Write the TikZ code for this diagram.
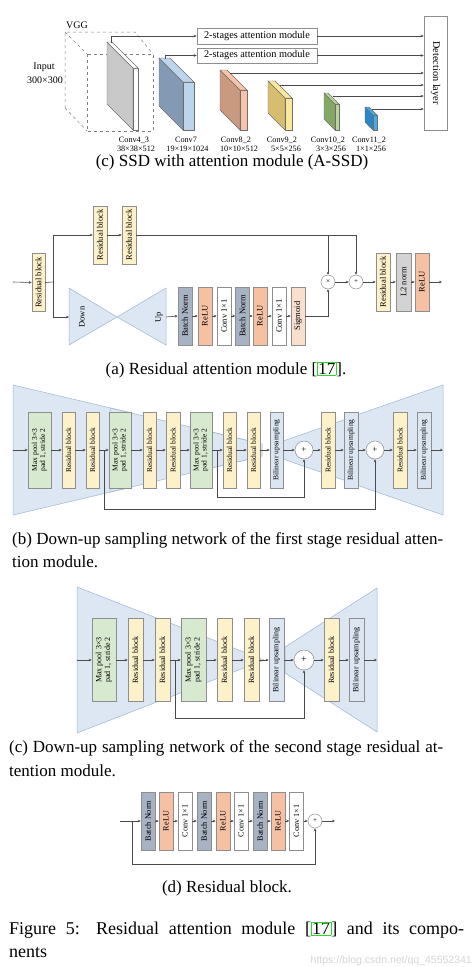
\documentclass[tikz,border=0pt]{standalone}
\usepackage{fontspec}
\setmainfont{Liberation Serif}
\newfontfamily\wmfont{Liberation Sans}
\usepackage{graphicx}
\usetikzlibrary{arrows.meta,calc}
\definecolor{linec}{HTML}{4A4A4A}
\definecolor{boxgray}{HTML}{8E8E8E}
\definecolor{rbfill}{HTML}{FDF1C9}
\definecolor{bnfill}{HTML}{A7B2C3}
\definecolor{relufill}{HTML}{F5C1A2}
\definecolor{sigfill}{HTML}{F9DFCE}
\definecolor{l2fill}{HTML}{D3D3D3}
\definecolor{mpfill}{HTML}{D7E9CF}
\definecolor{bufill}{HTML}{DCE6F2}
\definecolor{trapfill}{HTML}{DCE7F3}
\definecolor{trapedge}{HTML}{9FB6D0}
\definecolor{citegreen}{HTML}{22DD22}
\definecolor{slabedge}{HTML}{6E6E6E}
\definecolor{wmgray}{HTML}{D6D6D6}
\definecolor{s1side}{HTML}{C9C9C9}
\definecolor{s2side}{HTML}{8499B4}\definecolor{s2front}{HTML}{BDD5EC}
\definecolor{s3side}{HTML}{C99A80}\definecolor{s3front}{HTML}{F7C4A7}
\definecolor{s4side}{HTML}{D7BD70}\definecolor{s4front}{HTML}{FBE89C}
\definecolor{s5side}{HTML}{86A866}\definecolor{s5front}{HTML}{BAD79B}
\definecolor{s6side}{HTML}{2A86C6}\definecolor{s6front}{HTML}{45AEE6}
\newcommand{\myrot}[1]{\rotatebox{90}{#1}}
\newcommand{\mptext}{\rotatebox{90}{\begin{tabular}{@{}c@{}}Max pool 3×3\\pad 1, stride 2\end{tabular}}}
\newcommand{\greenref}[1]{{\setlength{\fboxsep}{0.4pt}\setlength{\fboxrule}{0.7pt}\color{citegreen}\fbox{\color{black}#1}}}
\newcommand{\ssdslab}[6]{%
 \filldraw[fill=#5, draw=slabedge, line width=0.4pt] (#1,#2) -- ({#1+#3},{#2+#3}) -- ({#1+#3},130) -- (#1,{130-#3}) -- cycle;
 \filldraw[fill=#6, draw=slabedge, line width=0.4pt] ({#1+#3},{#2+#3}) rectangle ({#1+#3+#4},130);
 \filldraw[fill=#6, draw=slabedge, line width=0.4pt] (#1,#2) -- ({#1+#4},#2) -- ({#1+#3+#4},{#2+#3}) -- ({#1+#3},{#2+#3}) -- cycle;}
\tikzset{
 base/.style={draw=boxgray, line width=0.5pt, inner sep=0pt, minimum width=14pt},
 rbk/.style={base, fill=rbfill},
 bnk/.style={base, fill=bnfill},
 reluk/.style={base, fill=relufill},
 convk/.style={base, fill=white},
 sigk/.style={base, fill=sigfill},
 l2k/.style={base, fill=l2fill},
 mpk/.style={base, fill=mpfill},
 buk/.style={base, fill=bufill},
 fa/.style={font=\fontsize{8.5}{9}\selectfont, minimum height=58pt},
 fb/.style={font=\fontsize{7.5}{8.2}\selectfont, minimum height=76pt},
 fc/.style={font=\fontsize{8}{8.6}\selectfont, minimum height=83pt},
 fd/.style={font=\fontsize{8.2}{9}\selectfont, minimum height=58pt},
 circk/.style={circle, draw=boxgray, fill=white, inner sep=0pt, line width=0.5pt, font=\fontsize{7}{7}\selectfont},
 arr/.style={-{Stealth[length=3pt,width=2.6pt]}, draw=linec, line width=0.6pt},
 ln/.style={draw=linec, line width=0.6pt},
 trap/.style={fill=trapfill, draw=trapedge, line width=0.5pt},
 lbl/.style={inner sep=0pt, font=\fontsize{8.2}{9}\selectfont},
 captxt/.style={inner sep=0pt, font=\fontsize{17}{20}\selectfont},
 figtxt/.style={inner sep=0pt, font=\fontsize{18}{21}\selectfont},
 attk/.style={draw=boxgray, fill=white, line width=0.6pt, inner sep=0pt, minimum width=120pt, font=\fontsize{10.3}{11}\selectfont},
}
\begin{document}
\begin{tikzpicture}[x=1pt,y=-1pt]
\useasboundingbox (0,0) rectangle (474,967);
\fill[white] (0,0) rectangle (474,967);

% ================= SSD =================
\draw[dashed, draw=gray, line width=0.5pt] (65,108) -- (65,32) -- (135,32) -- (153,54);
\draw[dashed, draw=gray, line width=0.5pt] (65,32) -- (87,54);
\draw[dashed, draw=gray, line width=0.5pt] (65,108) -- (87,131);
\draw[dashed, draw=gray, line width=0.5pt] (87,54) rectangle (153,131);
\node[inner sep=0pt, font=\fontsize{10}{11}\selectfont] (vgg) at (77,25) {VGG};
\node[inner sep=0pt, font=\fontsize{10}{11}\selectfont] (inp) at (44,67) {Input};
\node[inner sep=0pt, font=\fontsize{10}{11}\selectfont] (inpd) at (45,80) {300×300};

\ssdslab{107}{42}{26}{5}{s1side}{white}
\ssdslab{159}{58}{24}{11}{s2side}{s2front}
\ssdslab{220}{70}{20}{7}{s3side}{s3front}
\ssdslab{268}{81}{17}{7}{s4side}{s4front}
\ssdslab{324}{93}{11}{4}{s5side}{s5front}
\ssdslab{365}{107}{8}{4}{s6side}{s6front}

\coordinate (c43) at (111,43);
\coordinate (c7) at (165,59);
\coordinate (c82) at (230,73);
\coordinate (c92) at (280,85);
\coordinate (c102) at (333,96);
\coordinate (c112) at (372,109);

\node[attk, minimum height=16pt] (att1) at (257,36) {2-stages attention module};
\node[attk, minimum height=15pt] (att2) at (257,55.5) {2-stages attention module};
\node[draw=boxgray, fill=white, line width=0.6pt, minimum width=23pt, minimum height=114pt, inner sep=0pt] (det) at (435.5,73) {\rotatebox{-90}{\fontsize{10.3}{11}\selectfont Detection layer}};

\draw[arr] (c43) |- (att1.west);
\draw[arr] (c7) |- (att2.west);
\draw[arr] (att1.east) -- (att1.east -| det.west);
\draw[arr] (att2.east) -- (att2.east -| det.west);
\draw[arr] (c82) -- (c82 -| det.west);
\draw[arr] (c92) -- (c92 -| det.west);
\draw[arr] (c102) -- (c102 -| det.west);
\draw[arr] (c112) -- (c112 -| det.west);

\node[lbl] (n1) at (134,140) {Conv4\_3};
\node[lbl] (m1) at (136,149) {38×38×512};
\node[lbl] (n2) at (186,140) {Conv7};
\node[lbl] (m2) at (187.5,149) {19×19×1024};
\node[lbl] (n3) at (236,140) {Conv8\_2};
\node[lbl] (m3) at (239,149) {10×10×512};
\node[lbl] (n4) at (282,140) {Conv9\_2};
\node[lbl] (m4) at (286,149) {5×5×256};
\node[lbl] (n5) at (328,140) {Conv10\_2};
\node[lbl] (m5) at (331,149) {3×3×256};
\node[lbl] (n6) at (369,140) {Conv11\_2};
\node[lbl] (m6) at (371,149) {1×1×256};

\node[captxt] (capc) at (232,162) {(c) SSD with attention module (A-SSD)};

% ================= (a) =================
\filldraw[trap] (69,288) -- (117,317) -- (69,345) -- cycle;
\filldraw[trap] (166,288) -- (117,317) -- (166,345) -- cycle;
\node[inner sep=0pt, font=\fontsize{8.5}{9}\selectfont] (dn) at (82,317) {\myrot{Down}};
\node[inner sep=0pt, font=\fontsize{8.5}{9}\selectfont] (upt) at (159,317) {\myrot{Up}};
\coordinate (downL) at (69,317);
\coordinate (upR) at (166,317);
\coordinate (inA) at (13,282);
\coordinate (sA) at (53,282);
\coordinate (outA) at (442,282);

\node[rbk,fa,minimum width=13pt] (rbA1) at (38.5,282.5) {\myrot{Residual block}};
\node[rbk,fa] (rbA2) at (100,235) {\myrot{Residual block}};
\node[rbk,fa] (rbA3) at (129,235) {\myrot{Residual block}};
\node[bnk,fa] (bnA1) at (185,316) {\myrot{Batch Norm}};
\node[reluk,fa] (reA1) at (205,316) {\myrot{ReLU}};
\node[convk,fa] (cvA1) at (224,316) {\myrot{Conv 1×1}};
\node[bnk,fa] (bnA2) at (242.5,316) {\myrot{Batch Norm}};
\node[reluk,fa] (reA2) at (260,316) {\myrot{ReLU}};
\node[convk,fa] (cvA2) at (279,316) {\myrot{Conv 1×1}};
\node[sigk,fa] (sgA) at (298,316) {\myrot{Sigmoid}};
\node[circk, minimum size=14pt] (muA) at (328,282) {×};
\node[circk, minimum size=14pt] (plA) at (356,282) {+};
\node[rbk,fa] (rbA4) at (383,282) {\myrot{Residual block}};
\node[l2k,fa,minimum width=15pt] (l2A) at (403.5,282) {\myrot{L2 norm}};
\node[reluk,fa] (reA3) at (422,282) {\myrot{ReLU}};

\draw[arr] (inA) -- (rbA1.west);
\draw[ln] (rbA1.east) -- (sA);
\draw[arr] (sA) |- (rbA2.west);
\draw[arr] (sA) |- (downL);
\draw[arr] (rbA2.east) -- (rbA3.west);
\draw[arr] (rbA3.east) -| (plA.north);
\draw[arr] (rbA3.east -| muA) -- (muA.north);
\draw[arr] (upR) -- (bnA1.west);
\foreach \a/\b in {bnA1/reA1, reA1/cvA1, cvA1/bnA2, bnA2/reA2, reA2/cvA2, cvA2/sgA, muA/plA, plA/rbA4, rbA4/l2A, l2A/reA3}
  \draw[arr] (\a.east) -- (\b.west);
\draw[arr] (sgA.east) -| (muA.south);
\draw[arr] (reA3.east) -- (outA);

\node[captxt] (capa) at (226,370) {(a) Residual attention module [\greenref{17}].};

% ================= (b) =================
\filldraw[trap] (13,385) -- (132,413) -- (132,487) -- (13,515) -- cycle;
\filldraw[trap] (110,408) -- (250,441) -- (250,459) -- (110,492) -- cycle;
\filldraw[trap] (190,427) -- (262,444) -- (262,456) -- (190,473) -- cycle;
\filldraw[trap] (283,441) -- (358,415) -- (358,485) -- (283,459) -- cycle;
\filldraw[trap] (345,419) -- (443,385) -- (443,515) -- (345,481) -- cycle;

\coordinate (inB) at (13,450);
\coordinate (outB) at (443,450);
\node[mpk,fb,minimum width=23pt] (mpB1) at (39.5,450) {\mptext};
\node[rbk,fb,minimum width=13pt] (rbB1) at (68.5,450) {\myrot{Residual block}};
\node[rbk,fb,minimum width=13pt] (rbB2) at (92.5,450) {\myrot{Residual block}};
\node[mpk,fb,minimum width=22pt] (mpB2) at (120,450) {\mptext};
\node[rbk,fb,minimum width=13pt] (rbB3) at (149.5,450) {\myrot{Residual block}};
\node[rbk,fb,minimum width=14pt] (rbB4) at (173,450) {\myrot{Residual block}};
\node[mpk,fb,minimum width=22pt] (mpB3) at (201,450) {\mptext};
\node[rbk,fb,minimum width=13pt] (rbB5) at (229.5,450) {\myrot{Residual block}};
\node[rbk,fb,minimum width=13pt] (rbB6) at (253.5,450) {\myrot{Residual block}};
\node[buk,fb,minimum width=13pt] (buB1) at (276.5,450) {\myrot{Bilinear upsampling}};
\node[circk, minimum size=18pt, font=\fontsize{9}{9}\selectfont] (plB1) at (304,450) {+};
\node[rbk,fb,minimum width=14pt] (rbB7) at (328,450) {\myrot{Residual block}};
\node[buk,fb,minimum width=14pt] (buB2) at (351,450) {\myrot{Bilinear upsampling}};
\node[circk, minimum size=18pt, font=\fontsize{9}{9}\selectfont] (plB2) at (375,450) {+};
\node[rbk,fb,minimum width=14pt] (rbB8) at (400,450) {\myrot{Residual block}};
\node[buk,fb,minimum width=14pt] (buB3) at (424,450) {\myrot{Bilinear upsampling}};

\draw[arr] (inB) -- (mpB1.west);
\foreach \a/\b in {mpB1/rbB1, rbB1/rbB2, rbB2/mpB2, mpB2/rbB3, rbB3/rbB4, rbB4/mpB3, mpB3/rbB5, rbB5/rbB6, rbB6/buB1, buB1/plB1, plB1/rbB7, rbB7/buB2, buB2/plB2, plB2/rbB8, rbB8/buB3}
  \draw[arr] (\a.east) -- (\b.west);
\draw[arr] (buB3.east) -- (outB);
\coordinate (skB1) at (104,450);
\coordinate (skB1d) at (104,509);
\coordinate (skB2) at (217,450);
\coordinate (skB2d) at (217,497);
\draw[arr] (skB1) -- (skB1d) -| (plB2.south);
\draw[arr] (skB2) -- (skB2d) -| (plB1.south);

\node[captxt, anchor=west] (capb1) at (12,540) {\makebox[431pt][s]{(b) Down-up sampling network of the first stage residual atten-}};
\node[captxt, anchor=west] (capb2) at (12,562) {tion module.};

% ================= (c) second stage =================
\filldraw[trap] (77,587) -- (172,624) -- (172,696) -- (77,733) -- cycle;
\filldraw[trap] (165,621) -- (264,660) -- (165,699) -- cycle;
\filldraw[trap] (285,647) -- (377,588) -- (377,732) -- (285,673) -- cycle;

\coordinate (inC) at (77,660);
\coordinate (outC) at (377,660);
\node[mpk,fc,minimum width=24pt] (mpC1) at (104,660) {\mptext};
\node[rbk,fc,minimum width=15pt] (rbC1) at (135.5,660) {\myrot{Residual block}};
\node[rbk,fc,minimum width=15pt] (rbC2) at (162.5,660) {\myrot{Residual block}};
\node[mpk,fc,minimum width=25pt] (mpC2) at (193.5,660) {\mptext};
\node[rbk,fc,minimum width=15pt] (rbC3) at (224.5,660) {\myrot{Residual block}};
\node[rbk,fc,minimum width=15pt] (rbC4) at (251.5,660) {\myrot{Residual block}};
\node[buk,fc,minimum width=15pt] (buC1) at (276.5,660) {\myrot{Bilinear upsampling}};
\node[circk, minimum size=20pt, font=\fontsize{10}{10}\selectfont] (plC) at (304,660) {+};
\node[rbk,fc,minimum width=15pt] (rbC5) at (331.5,660) {\myrot{Residual block}};
\node[buk,fc,minimum width=15pt] (buC2) at (356.5,660) {\myrot{Bilinear upsampling}};

\draw[arr] (inC) -- (mpC1.west);
\foreach \a/\b in {mpC1/rbC1, rbC1/rbC2, rbC2/mpC2, mpC2/rbC3, rbC3/rbC4, rbC4/buC1, buC1/plC, plC/rbC5, rbC5/buC2}
  \draw[arr] (\a.east) -- (\b.west);
\draw[arr] (buC2.east) -- (outC);
\coordinate (skC) at (175,660);
\coordinate (skCd) at (175,718);
\draw[arr] (skC) -- (skCd) -| (plC.south);

\node[captxt, anchor=west] (capc1) at (9,748) {\makebox[434pt][s]{(c) Down-up sampling network of the second stage residual at-}};
\node[captxt, anchor=west] (capc2) at (9,771) {tention module.};

% ================= (d) residual block =================
\coordinate (inD) at (120,821);
\coordinate (outD) at (335,821);
\node[bnk,fd] (bnD1) at (148,821) {\myrot{Batch Norm}};
\node[reluk,fd] (reD1) at (166,821) {\myrot{ReLU}};
\node[convk,fd] (cvD1) at (185,821) {\myrot{Conv 1×1}};
\node[bnk,fd] (bnD2) at (204,821) {\myrot{Batch Norm}};
\node[reluk,fd] (reD2) at (223,821) {\myrot{ReLU}};
\node[convk,fd] (cvD2) at (241,821) {\myrot{Conv 1×1}};
\node[bnk,fd] (bnD3) at (260,821) {\myrot{Batch Norm}};
\node[reluk,fd] (reD3) at (278,821) {\myrot{ReLU}};
\node[convk,fd] (cvD3) at (296.5,821) {\myrot{Conv 1×1}};
\node[circk, minimum size=14pt] (plD) at (315,821) {+};

\draw[arr] (inD) -- (bnD1.west);
\foreach \a/\b in {bnD1/reD1, reD1/cvD1, cvD1/bnD2, bnD2/reD2, reD2/cvD2, cvD2/bnD3, bnD3/reD3, reD3/cvD3, cvD3/plD}
  \draw[arr] (\a.east) -- (\b.west);
\draw[arr] (plD.east) -- (outD);
\coordinate (skD) at (132,821);
\coordinate (skDd) at (132,864);
\draw[arr] (skD) -- (skDd) -| (plD.south);

\node[captxt] (capd) at (227,888) {(d) Residual block.};

% ================= figure caption =================
\node[figtxt, anchor=west] (fig1) at (9,930) {\makebox[455pt][s]{Figure 5: Residual attention module [\greenref{17}] and its compo-}};
\node[figtxt, anchor=west] (fig2) at (9,953) {nents};
\node[anchor=east, inner sep=0pt, text=wmgray, font=\wmfont\fontsize{10.5}{11}\selectfont] (wm) at (472,961) {https://blog.csdn.net/qq\_45552341};
\end{tikzpicture}
\end{document}
